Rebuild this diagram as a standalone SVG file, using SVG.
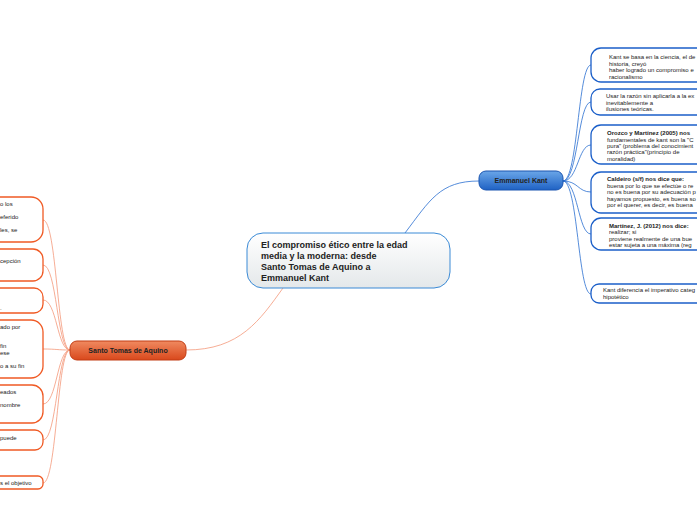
<svg xmlns="http://www.w3.org/2000/svg" width="697" height="520" viewBox="0 0 697 520">
<defs>
<linearGradient id="gb" x1="0" y1="0" x2="0" y2="1"><stop offset="0" stop-color="#6aa6e8"/><stop offset="1" stop-color="#1f62c4"/></linearGradient>
<linearGradient id="go" x1="0" y1="0" x2="0" y2="1"><stop offset="0" stop-color="#f08a60"/><stop offset="1" stop-color="#d9481c"/></linearGradient>
<linearGradient id="gc" x1="0" y1="0" x2="0" y2="1"><stop offset="0" stop-color="#ffffff"/><stop offset="1" stop-color="#e4e8ea"/></linearGradient>
</defs>
<style>
text{font-family:"Liberation Sans",Arial,sans-serif;fill:#222}
.t{font-size:6px}
.b{font-weight:bold}
.kb{fill:#fff;stroke:#1b5fc9;stroke-width:1.3}
.ob{fill:#fff;stroke:#f05a24;stroke-width:1.3}
.kc{fill:none;stroke:#2a6fd0;stroke-width:0.8}
.oc{fill:none;stroke:#f4987a;stroke-width:0.8}
</style>
<rect width="697" height="520" fill="#fff"/>
<g id="connectors">
<path class="kc" d="M405 233 C430 200 440 181 479 181" stroke-width="1.2"/>
<path class="oc" d="M283 288 C260 320 240 350 186 350" stroke="#f07a55" stroke-width="1.2"/>
<path class="kc" d="M563 181 C578 181 578 65 591 65"/>
<path class="kc" d="M563 181 C578 181 578 102 591 102"/>
<path class="kc" d="M563 181 C578 181 578 145 591 145"/>
<path class="kc" d="M563 181 C578 181 578 192 591 192"/>
<path class="kc" d="M563 181 C578 181 578 234 591 234"/>
<path class="kc" d="M563 181 C578 181 578 294 591 294"/>
<path class="oc" d="M70 350 C57 350 57 220 43 220"/>
<path class="oc" d="M70 350 C57 350 57 265 43 265"/>
<path class="oc" d="M70 350 C57 350 57 300 43 300"/>
<path class="oc" d="M70 350 C57 350 57 349 43 349"/>
<path class="oc" d="M70 350 C57 350 57 404 43 404"/>
<path class="oc" d="M70 350 C57 350 57 440 43 440"/>
<path class="oc" d="M70 350 C57 350 57 483 43 483"/>
</g>
<g id="center">
<rect x="247" y="233" width="203" height="55" rx="16" fill="url(#gc)" stroke="#3a8ad6" stroke-width="1"/>
<text class="b" font-size="9" x="261" y="248">El compromiso ético entre la edad</text>
<text class="b" font-size="9" x="261" y="259">media y la moderna: desde</text>
<text class="b" font-size="9" x="261" y="270">Santo Tomas de Aquino a</text>
<text class="b" font-size="9" x="261" y="281">Emmanuel Kant</text>
</g>
<g id="kant">
<rect x="479" y="171" width="84" height="19" rx="7" fill="url(#gb)" stroke="#1b55b0"/>
<text class="b" font-size="7" x="521" y="183" text-anchor="middle">Emmanuel Kant</text>
</g>
<g id="tomas">
<rect x="70" y="341" width="116" height="19" rx="7" fill="url(#go)" stroke="#c23d14"/>
<text class="b" font-size="7" x="128" y="353" text-anchor="middle">Santo Tomas de Aquino</text>
</g>
<g id="k1"><rect class="kb" x="591" y="48" width="120" height="34" rx="10"/>
<text class="t" x="609" y="59">Kant se basa en la ciencia, el de</text><text class="t" x="609" y="66">historia, creyó</text><text class="t" x="609" y="72">haber logrado un compromiso e</text><text class="t" x="609" y="79">racionalismo</text></g>
<g id="k2"><rect class="kb" x="591" y="89" width="120" height="26" rx="9"/>
<text class="t" x="606" y="98">Usar la razón sin aplicarla a la ex</text><text class="t" x="606" y="105">inevitablemente a</text><text class="t" x="606" y="111">ilusiones teóricas.</text></g>
<g id="k3"><rect class="kb" x="591" y="125" width="120" height="39" rx="10"/>
<text class="t b" x="607" y="135">Orozco y Martínez (2005) nos</text><text class="t" x="607" y="142">fundamentales de kant son la "C</text><text class="t" x="607" y="148">pura" (problema del conocimient</text><text class="t" x="607" y="154">razón práctica"(principio de</text><text class="t" x="607" y="161">moralidad)</text></g>
<g id="k4"><rect class="kb" x="591" y="172" width="120" height="41" rx="10"/>
<text class="t b" x="607" y="181">Caldeiro (s/f) nos dice que:</text><text class="t" x="607" y="188">buena por lo que se efectúe o re</text><text class="t" x="607" y="194">no es buena por su adecuación p</text><text class="t" x="607" y="201">hayamos propuesto, es buena so</text><text class="t" x="607" y="207">por el querer, es decir, es buena</text></g>
<g id="k5"><rect class="kb" x="591" y="218" width="120" height="32" rx="10"/>
<text class="t b" x="609" y="228">Martínez, J. (2012) nos dice:</text><text class="t" x="609" y="234">realizar; si</text><text class="t" x="609" y="241"> proviene realmente de una bue</text><text class="t" x="609" y="247">estar sujeta a una máxima (reg</text></g>
<g id="k6"><rect class="kb" x="591" y="284" width="120" height="19" rx="8"/>
<text class="t" x="603" y="292">Kant diferencia el imperativo categ</text><text class="t" x="603" y="299">hipotético</text></g>
<g id="o1"><rect class="ob" x="-20" y="197" width="63" height="45" rx="12"/>
<text class="t" x="0" y="206">o los</text><text class="t" x="0" y="219">eferido</text><text class="t" x="0" y="232">les, se</text></g>
<g id="o2"><rect class="ob" x="-20" y="249" width="63" height="32" rx="10"/>
<text class="t" x="0" y="263">cepción</text></g>
<g id="o3"><rect class="ob" x="-20" y="288" width="63" height="25" rx="9"/>
<text class="t" x="0" y="310">.</text></g>
<g id="o4"><rect class="ob" x="-20" y="320" width="63" height="58" rx="12"/>
<text class="t" x="0" y="329">ado por</text><text class="t" x="0" y="348">fin</text><text class="t" x="0" y="355">ese</text><text class="t" x="0" y="368">o a su fin</text></g>
<g id="o5"><rect class="ob" x="-20" y="385" width="63" height="38" rx="11"/>
<text class="t" x="0" y="394">eados</text><text class="t" x="0" y="407">nombre</text></g>
<g id="o6"><rect class="ob" x="-20" y="430" width="63" height="20" rx="8"/>
<text class="t" x="0" y="440">puede</text></g>
<g id="o7"><rect class="ob" x="-20" y="476" width="63" height="13" rx="5"/>
<text class="t" x="0" y="485">s el objetivo</text></g>
</svg>
